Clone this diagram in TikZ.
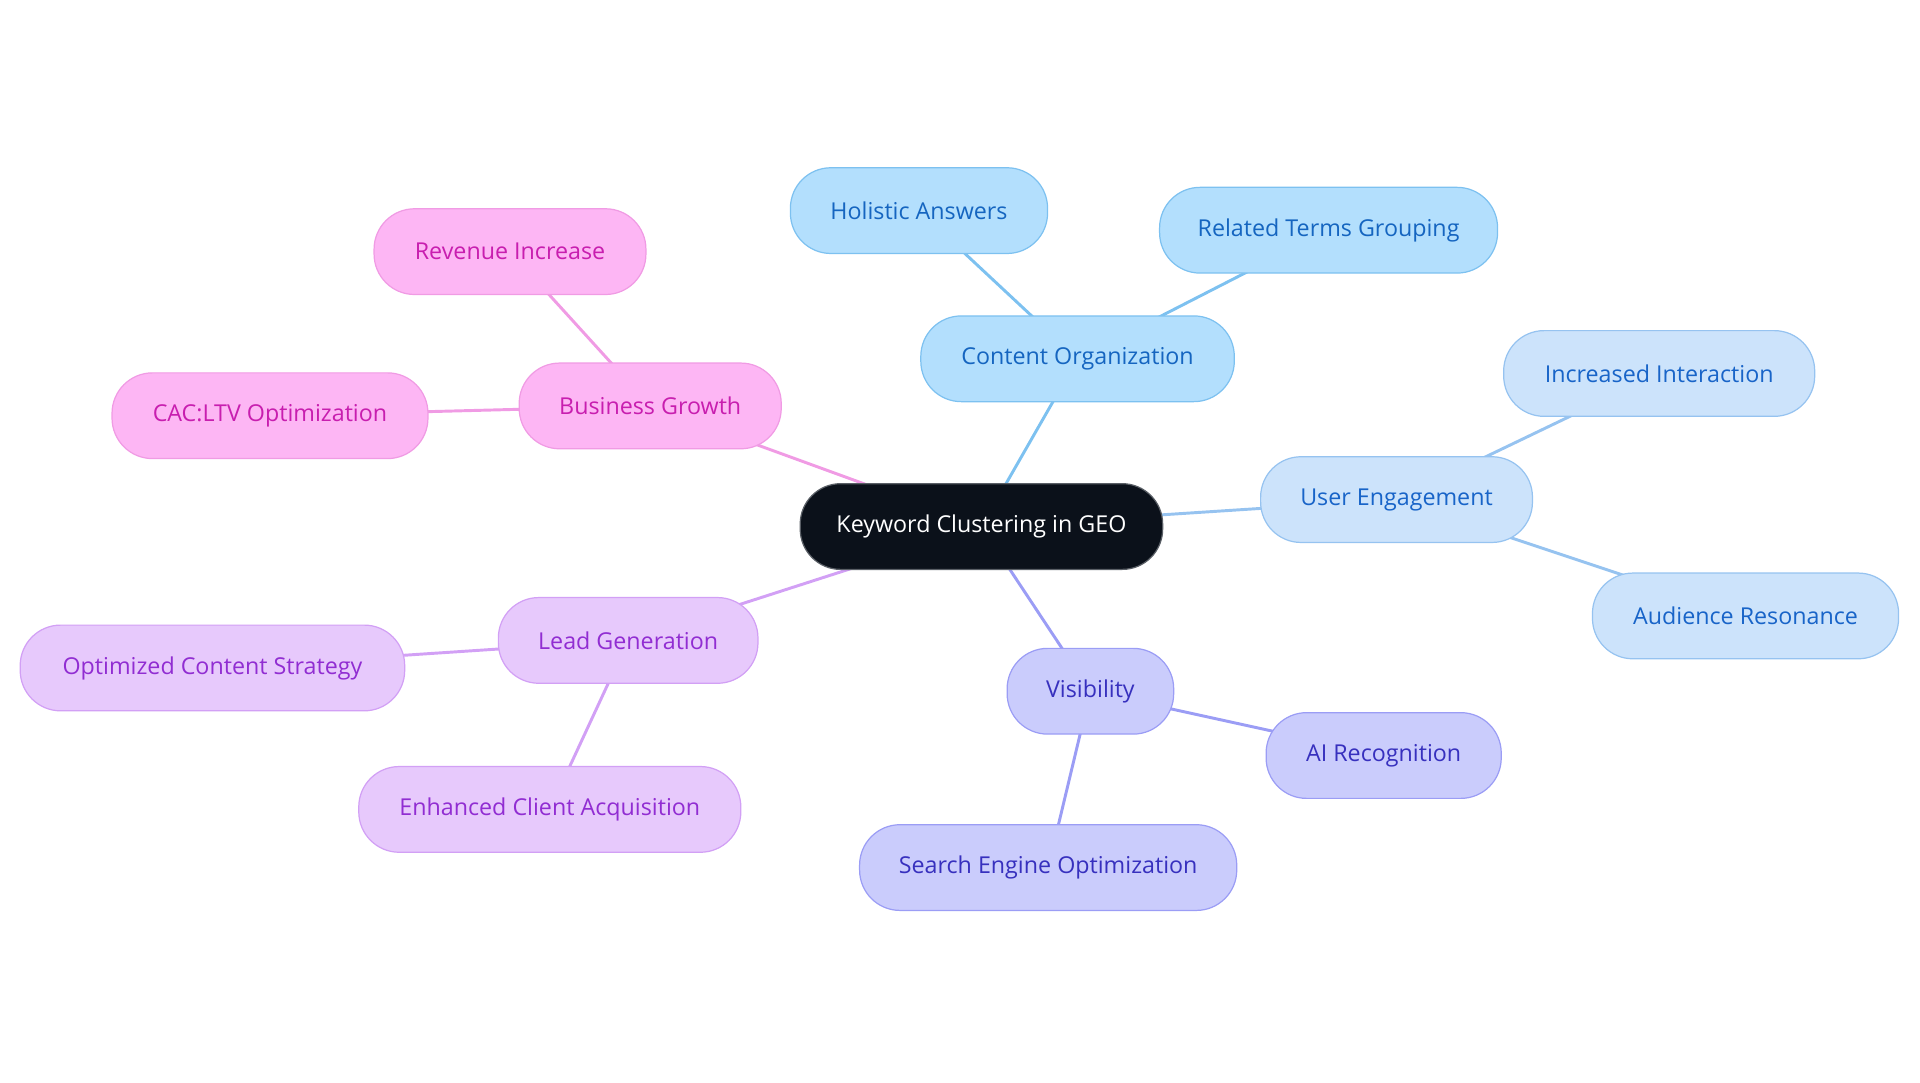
\documentclass[tikz,border=0pt]{standalone}
\usepackage{fontspec}
\setmainfont{Open Sans}
\usetikzlibrary{positioning, backgrounds}

\definecolor{rootfill}{HTML}{0B111A}
\definecolor{rootdraw}{HTML}{5A5F66}
\definecolor{orgfill}{HTML}{B3DFFD}
\definecolor{orgdraw}{HTML}{7DC1F0}
\definecolor{orgtext}{HTML}{1565C0}
\definecolor{usrfill}{HTML}{CCE3FB}
\definecolor{usrdraw}{HTML}{96C3F0}
\definecolor{usrtext}{HTML}{1864C8}
\definecolor{visfill}{HTML}{CACCFC}
\definecolor{visdraw}{HTML}{9B9DF5}
\definecolor{vistext}{HTML}{3730BE}
\definecolor{leadfill}{HTML}{E7C9FC}
\definecolor{leaddraw}{HTML}{D2A0F5}
\definecolor{leadtext}{HTML}{912DD2}
\definecolor{bizfill}{HTML}{FDB6F4}
\definecolor{bizdraw}{HTML}{F09BE4}
\definecolor{biztext}{HTML}{C81EAF}

\begin{document}
\begin{tikzpicture} [x=0.5pt, y=-0.5pt,
  pill/.style={rectangle, rounded corners=16.5pt, minimum height=35pt, inner xsep=6pt, line width=0.5pt, font=\fontsize{9.5}{11}\selectfont},
  root/.style={pill, fill=rootfill, draw=rootdraw, text=white},
  org/.style={pill, fill=orgfill, draw=orgdraw, text=orgtext},
  usr/.style={pill, fill=usrfill, draw=usrdraw, text=usrtext},
  vis/.style={pill, fill=visfill, draw=visdraw, text=vistext},
  lead/.style={pill, fill=leadfill, draw=leaddraw, text=leadtext},
  biz/.style={pill, fill=bizfill, draw=bizdraw, text=biztext},
  link/.style={line width=1.2pt}]
\useasboundingbox (0,0) rectangle (1568,884);
% centre
\node (kc) [root, minimum width=148pt] at (801.5,430) {Keyword Clustering in GEO};
% content organization
\node (co) [org, minimum width=128pt] at (880,293) {Content Organization};
\node (ha) [org, minimum width=105pt] at (750.5,172) {Holistic Answers};
\node (rt) [org, minimum width=138pt] at (1085,188) {Related Terms Grouping};
% user engagement
\node (ue) [usr, minimum width=111pt] at (1140.5,408) {User Engagement};
\node (ii) [usr, minimum width=127pt] at (1355,305) {Increased Interaction};
\node (ar) [usr, minimum width=125pt] at (1425.5,503) {Audience Resonance};
% visibility
\node (vi) [vis, minimum width=68pt] at (890.5,564.5) {Visibility};
\node (ai) [vis, minimum width=96pt] at (1130,617) {AI Recognition};
\node (se) [vis, minimum width=154pt] at (856,708.5) {Search Engine Optimization};
% lead generation
\node (lg) [lead, minimum width=106pt] at (513,523) {Lead Generation};
\node (oc) [lead, minimum width=157pt] at (173.5,545.5) {Optimized Content Strategy};
\node (ec) [lead, minimum width=156pt] at (449,661) {Enhanced Client Acquisition};
% business growth
\node (bg) [biz, minimum width=107pt] at (531,331.5) {Business Growth};
\node (ri) [biz, minimum width=111pt] at (416.5,205.5) {Revenue Increase};
\node (cl) [biz, minimum width=129pt] at (220.5,339.5) {CAC:LTV Optimization};
% links, behind the nodes
\begin{scope}[on background layer]
\draw [link, orgdraw] (kc.center) -- (co.center);
\draw [link, orgdraw] (co.center) -- (ha.center);
\draw [link, orgdraw] (co.center) -- (rt.center);
\draw [link, usrdraw] (kc.center) -- (ue.center);
\draw [link, usrdraw] (ue.center) -- (ii.center);
\draw [link, usrdraw] (ue.center) -- (ar.center);
\draw [link, visdraw] (kc.center) -- (vi.center);
\draw [link, visdraw] (vi.center) -- (ai.center);
\draw [link, visdraw] (vi.center) -- (se.center);
\draw [link, leaddraw] (kc.center) -- (lg.center);
\draw [link, leaddraw] (lg.center) -- (oc.center);
\draw [link, leaddraw] (lg.center) -- (ec.center);
\draw [link, bizdraw] (kc.center) -- (bg.center);
\draw [link, bizdraw] (bg.center) -- (ri.center);
\draw [link, bizdraw] (bg.center) -- (cl.center);
\end{scope}
\end{tikzpicture}
\end{document}
